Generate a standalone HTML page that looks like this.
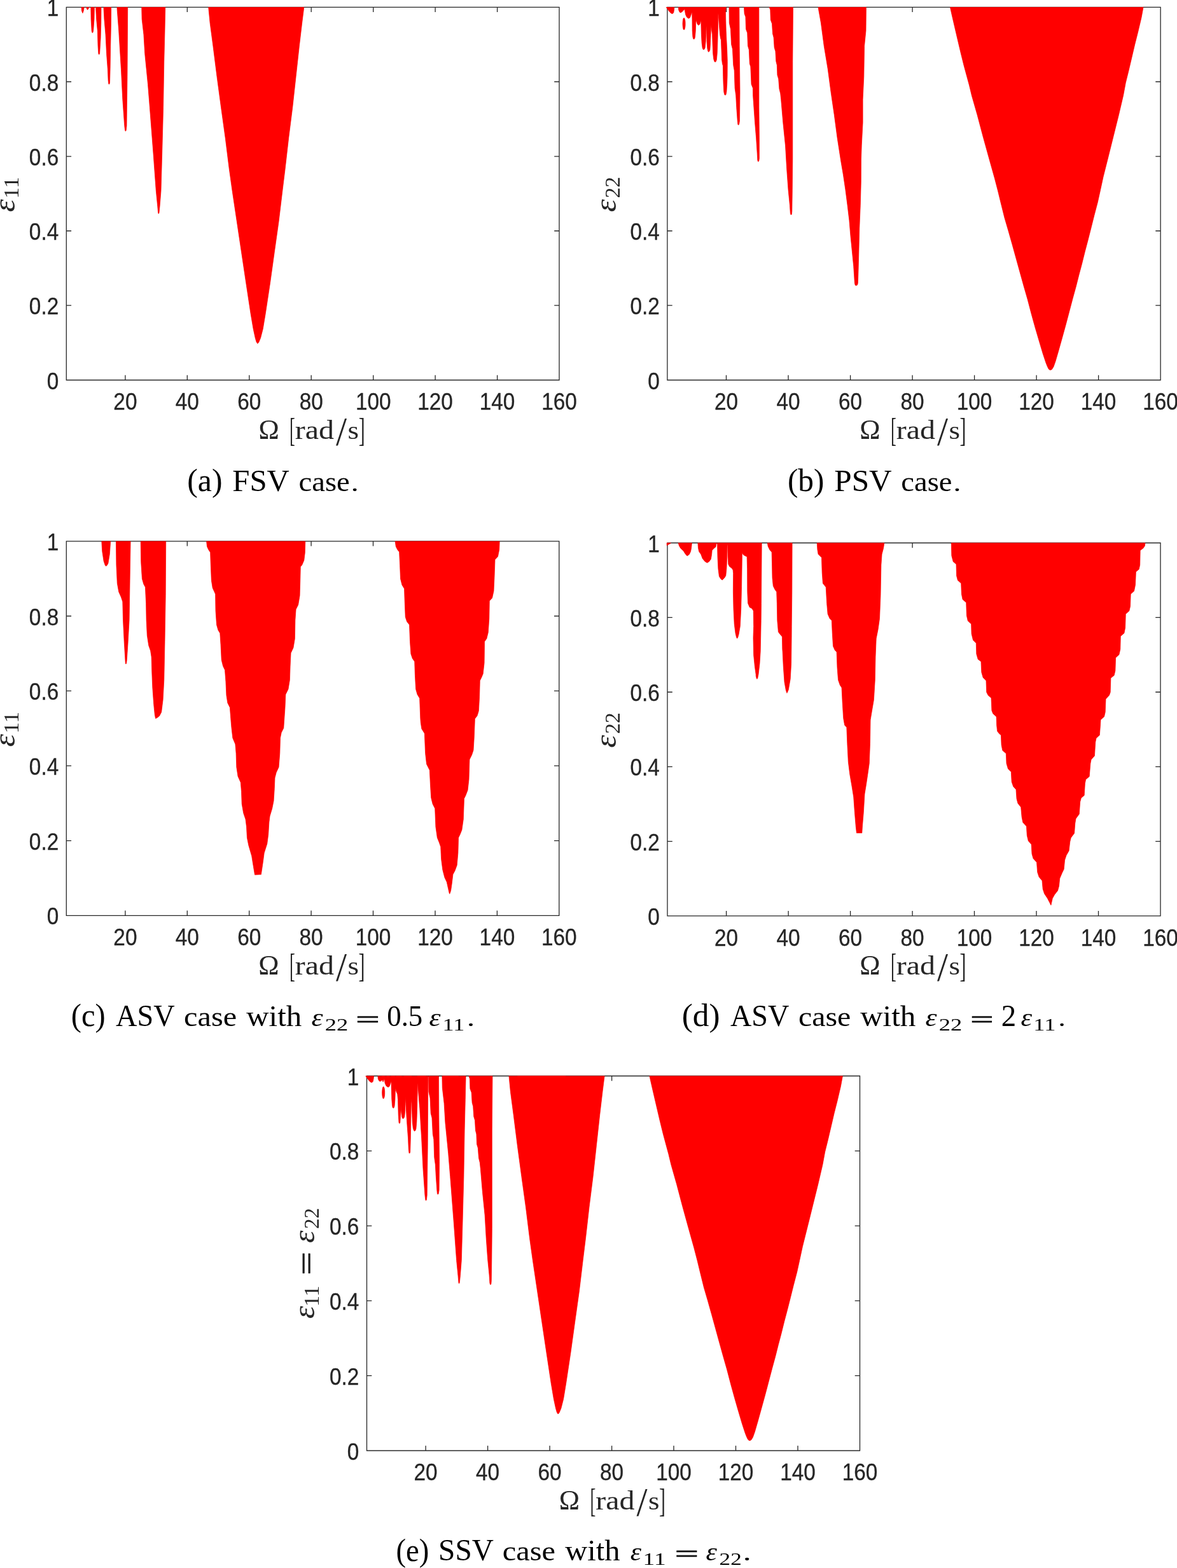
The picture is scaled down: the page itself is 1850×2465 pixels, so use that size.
<!DOCTYPE html>
<html lang="en"><head><meta charset="utf-8"><title>Stability charts</title>
<style>html,body{margin:0;padding:0;background:#fff}svg{display:block}.tk{font-family:"Liberation Sans",sans-serif;font-size:33.33px;fill:#262626;stroke:#262626;stroke-width:.3}.lb{font-family:"Liberation Serif",serif;fill:#262626}.cp{font-family:"Liberation Serif",serif;fill:#000}.eq{stroke:currentColor;stroke-width:.8}.cp.eq{color:#000}.lb.eq{color:#262626}.ax{stroke:#262626;stroke-width:1.3;fill:none}.rd{fill:#ff0000;stroke:#ff0000;stroke-width:.7;stroke-linejoin:round}</style></head><body>
<svg width="1850" height="2465" viewBox="0 0 1850 2465">
<rect width="1850" height="2465" fill="#fff"/>
<g id="panel-a">
<path class="ax" d="M104.3 11.3H879V597.5H104.3ZM196.9 597.5v-7.8M196.9 11.3v7.8M294.3 597.5v-7.8M294.3 11.3v7.8M391.8 597.5v-7.8M391.8 11.3v7.8M489.2 597.5v-7.8M489.2 11.3v7.8M586.7 597.5v-7.8M586.7 11.3v7.8M684.1 597.5v-7.8M684.1 11.3v7.8M781.6 597.5v-7.8M781.6 11.3v7.8M104.3 480.2h7.8M879 480.2h-7.8M104.3 363h7.8M879 363h-7.8M104.3 245.8h7.8M879 245.8h-7.8M104.3 128.5h7.8M879 128.5h-7.8"/>
<path class="rd" d="M128 11.5L128.4 16.9L129.9 20.7L131.3 16.9L132.2 11.5Z"/>
<path class="rd" d="M135.8 11.5L136.4 13.9L137.6 15.4L138.8 13.9L139.8 11.5Z"/>
<path class="rd" d="M142.8 11.5L143.1 30.1L144.1 48.2L144.8 51.2L145.4 51.6L146.1 50.6L146.7 48.2L148 30.1L148.4 11.5Z"/>
<path class="rd" d="M150.6 11.5L151.6 30.1L153.3 48.2L154 72.3L154.8 84.3L155.7 85.8L156.6 84.3L158.1 60.2L158.8 36.1L159 11.5Z"/>
<path class="rd" d="M162.9 11.5L163.9 30.1L166 54.2L167.5 84.3L169.3 108.4L170.1 126.5L170.8 131.9L171.4 132.5L172 131.9L172.5 130.1L173.1 108.4L173.7 72.3L174.5 36.1L174.7 11.5Z"/>
<path class="rd" d="M183.9 11.5L186.7 48.2L190.4 108.4L192.8 156.6L195.7 197.6L196.6 205L197.3 206.3L198.2 205L199 198L200 120.5L200.7 11.5Z"/>
<path class="rd" d="M222.7 11.5L223.1 30.1L225.9 54.2L227.7 84.3L230.1 108.4L232.5 132.5L235.4 168.7L241 241L245.3 300L247.7 324.1L248.6 334.5L249.2 336.1L250 334.5L251.1 324.1L253 300L254.7 241L256.6 168.7L257.8 96.4L259 48.2L259.8 11.5Z"/>
<path class="rd" d="M327.7 11.5L330.1 36.1L334.9 72.3L341 120.5L347.5 168.7L354.2 216.9L360.2 265.1L365.1 300L372.3 348.2L379.5 396.4L386.7 444.6L394 492.8L398.1 516.9L401.2 531.3L403 537.5L404.8 540.2L406.8 538L409.6 531.3L413.3 516.9L417.3 492.8L424.6 444.6L431.3 396.4L438.1 348.2L443.9 300L448.2 265L453.7 216.9L459.8 168.7L465.1 120.5L470.4 72.3L474.7 36L477.8 11.5Z"/>
<g class="tk" text-anchor="middle">
<text transform="translate(196.9 644.2) scale(1 1.09)">20</text>
<text transform="translate(294.3 644.2) scale(1 1.09)">40</text>
<text transform="translate(391.8 644.2) scale(1 1.09)">60</text>
<text transform="translate(489.2 644.2) scale(1 1.09)">80</text>
<text transform="translate(586.7 644.2) scale(1 1.09)">100</text>
<text transform="translate(684.1 644.2) scale(1 1.09)">120</text>
<text transform="translate(781.6 644.2) scale(1 1.09)">140</text>
<text transform="translate(879 644.2) scale(1 1.09)">160</text>
</g>
<g class="tk" text-anchor="end">
<text transform="translate(92.2 611.5) scale(1 1.09)">0</text>
<text transform="translate(92.2 494.2) scale(1 1.09)">0.2</text>
<text transform="translate(92.2 377) scale(1 1.09)">0.4</text>
<text transform="translate(92.2 259.8) scale(1 1.09)">0.6</text>
<text transform="translate(92.2 142.5) scale(1 1.09)">0.8</text>
<text transform="translate(92.2 25.3) scale(1 1.09)">1</text>
</g>
<text class="lb"><tspan x="406.42" y="689.85" font-size="44.19" textLength="32.33" lengthAdjust="spacingAndGlyphs">Ω</tspan> <tspan x="455.06" y="693.83" font-size="52.1" textLength="8.84" lengthAdjust="spacingAndGlyphs">[</tspan><tspan x="463.89" y="689.94" font-size="42.43" textLength="61.19" lengthAdjust="spacingAndGlyphs">rad</tspan><tspan x="528.05" y="699.89" font-size="63.63" textLength="17.05" lengthAdjust="spacingAndGlyphs">/</tspan><tspan x="546.58" y="689.97" font-size="40.03" textLength="17.49" lengthAdjust="spacingAndGlyphs">s</tspan><tspan x="563.68" y="693.83" font-size="52.1" textLength="9.99" lengthAdjust="spacingAndGlyphs">]</tspan></text>
<text class="lb" transform="translate(23.5 304.38) rotate(-90)"><tspan x="-28.88" y="-0.46" font-size="48.26" textLength="20.03" lengthAdjust="spacingAndGlyphs" font-style="italic">ε</tspan><tspan x="-7.9" y="5.4" font-size="34.56" textLength="34.14" lengthAdjust="spacingAndGlyphs">11</tspan></text>
</g>
<g id="panel-b">
<path class="ax" d="M1048.9 11.3H1824.1V597.5H1048.9ZM1141.5 597.5v-7.8M1141.5 11.3v7.8M1239 597.5v-7.8M1239 11.3v7.8M1336.6 597.5v-7.8M1336.6 11.3v7.8M1434.1 597.5v-7.8M1434.1 11.3v7.8M1531.6 597.5v-7.8M1531.6 11.3v7.8M1629.1 597.5v-7.8M1629.1 11.3v7.8M1726.6 597.5v-7.8M1726.6 11.3v7.8M1048.9 480.2h7.8M1824.1 480.2h-7.8M1048.9 363h7.8M1824.1 363h-7.8M1048.9 245.8h7.8M1824.1 245.8h-7.8M1048.9 128.5h7.8M1824.1 128.5h-7.8"/>
<path class="rd" d="M1047.2 11.5L1048.4 13.3L1052 18.1L1054.5 20.7L1056.9 21.7L1058.7 19.9L1059.5 15.7L1059.9 11.5Z"/>
<path class="rd" d="M1066.3 11.5L1066.7 15.7L1068 18.7L1069.5 19.9L1071.6 19L1074.3 16.3L1076.1 14.5L1076.7 18.1L1077.6 22.9L1079.2 26.5L1081 28.4L1082.8 28.9L1084.6 27.5L1085.8 24.1L1087 20.5L1087.7 19.3L1088 30.1L1088.2 48.2L1088.9 57.8L1089.6 60.8L1090.6 61.7L1091.8 60.8L1092.5 57.8L1093.3 48.2L1093.7 36.1L1094.2 31.1L1094.9 34.3L1096 37.6L1097.2 39.2L1098.4 39.5L1099.8 38.3L1100.8 34.9L1101.4 31.6L1101.9 36.1L1102.4 54.2L1103.1 67.5L1104.1 75.3L1105.1 77.7L1106 78.1L1107.2 77.3L1108.2 74.9L1109.2 65.1L1109.6 54.2L1110.1 41L1110.6 48.2L1111.1 66.3L1111.8 75.9L1112.8 80.5L1113.7 81.7L1114.9 80.7L1115.9 78.3L1116.6 67.5L1117.1 54.2L1117.6 38.6L1118.3 45.8L1119.5 54.2L1120.2 72.3L1120.7 84.3L1121.7 92.8L1122.9 96.7L1124.1 97.6L1125.3 96.7L1126.3 94L1127.2 84.3L1127.7 72.3L1128.2 54.2L1128.6 36.1L1128.9 21.1L1129.4 25.3L1130.4 39.8L1131.6 54.2L1132.5 60.2L1133.4 62.7L1134 78.3L1134.6 94L1135.4 100L1136.4 103.6L1136.7 120.5L1137.1 132.5L1137.8 144.6L1138.8 148.8L1139.8 149.6L1141 148.8L1141.9 144.6L1142.7 132.5L1143.1 120.5L1143.3 96.4L1142.7 78.3L1141.9 62.7L1141.2 48.2L1140.7 30.1L1140.5 19.3L1141 13.3L1141.4 11.5Z"/>
<path class="rd" d="M1077.1 37.5L1077.1 39.3L1077 41.1L1076.8 42.7L1076.5 44.1L1076.2 45.3L1075.8 46.2L1075.5 46.7L1075.1 46.9L1074.7 46.7L1074.3 46.2L1073.9 45.3L1073.6 44.1L1073.4 42.7L1073.2 41.1L1073.1 39.3L1073 37.5L1073.1 35.6L1073.2 33.9L1073.4 32.2L1073.6 30.8L1073.9 29.7L1074.3 28.8L1074.7 28.3L1075.1 28.1L1075.5 28.3L1075.8 28.8L1076.2 29.7L1076.5 30.8L1076.8 32.2L1077 33.9L1077.1 35.6Z"/>
<path class="rd" d="M1146 11.5L1146.3 36.1L1148.4 45.8L1149.6 69.9L1151.4 77.1L1152.7 102.4L1154.2 110.8L1155.1 138.6L1156.7 150L1157.7 168.7L1159.2 190L1159.8 195.5L1160.6 196.6L1161.6 195.5L1162.5 190L1163 144.6L1162.2 72.3L1161.9 11.5Z"/>
<path class="rd" d="M1169.5 11.5L1170.1 21.7L1171.9 26.5L1172.5 45.8L1174.7 51.8L1175.5 72.3L1177.3 78.3L1178.3 100L1179.8 104.8L1181 132.5L1183.4 138.6L1183.6 150L1186.6 192.8L1188.6 216.9L1190.2 241L1190.8 252L1191.7 254.2L1192.8 253L1193.4 249L1193.4 216.9L1192.9 168.7L1192.9 11.5Z"/>
<path class="rd" d="M1209.3 11.5L1210.8 15.7L1211.3 31.3L1213.5 37.3L1214.5 53L1216.1 59L1217.1 74.7L1218.9 80.7L1219.8 96.4L1221.3 102.4L1221.9 118.1L1223.7 124.1L1224.9 139.8L1226.7 147L1227.7 156.6L1230.8 192.8L1234.5 228.9L1236.6 265.1L1239 298.2L1241.4 322.3L1242.3 335.5L1243.4 338L1244.4 336.5L1244.8 331.9L1245.3 298.2L1245.8 250L1245.8 96.4L1246.5 11.5Z"/>
<path class="rd" d="M1286 11.5L1290.4 36.1L1295.2 72.3L1301.2 108.4L1306 144.6L1311.3 180.7L1316.1 216.9L1321.7 253L1325.3 274.1L1328.9 298.2L1332 322.3L1334.9 346.4L1336.9 370.5L1339.3 394.6L1341.7 418.7L1343.4 445L1344.2 448.3L1345.8 448.9L1347.6 448L1348.4 445L1348.9 430.7L1349.9 394.6L1350.8 358.4L1352.3 322.3L1353.3 286.1L1353.5 250L1354.2 228.9L1356.1 192.8L1356.1 156.6L1357.8 120.5L1358.6 72.3L1361 48.2L1361.4 11.5Z"/>
<path class="rd" d="M1493.5 11.5L1496.3 24.1L1500.5 42.2L1505.3 62.7L1510.1 83.1L1514.9 102.4L1519.8 120.5L1523.4 133.7L1527.3 150L1536.1 180.7L1545.2 215.1L1554.2 247.6L1563.3 280.1L1568.5 300L1572.9 318.1L1578.9 342.2L1584.9 362.7L1591 384.3L1597 406L1603 427.7L1609.2 450L1615.1 470.5L1621.1 493.4L1627.1 515.1L1633.1 535.5L1639.2 556L1644 570.5L1646.4 576.5L1648.2 580.1L1650.2 581.7L1652 581.5L1653.6 580.4L1656 576.5L1659 568.1L1663.9 551.2L1669.3 531.9L1675.3 510.2L1680.7 489.8L1686.1 469.3L1691.4 450L1695.8 432.5L1700.6 414.5L1705.4 395.2L1710.2 377.1L1715.1 357.8L1719.9 338.6L1725.3 318.1L1729.3 300L1734 278.3L1742.2 245.8L1750.3 213.3L1758.4 180.7L1765.6 150L1769.3 130.1L1774.1 110.8L1778.9 90.4L1783.7 69.9L1788.6 50.6L1794 27.7L1797 11.5Z"/>
<g class="tk" text-anchor="middle">
<text transform="translate(1141.5 644.2) scale(1 1.09)">20</text>
<text transform="translate(1239 644.2) scale(1 1.09)">40</text>
<text transform="translate(1336.6 644.2) scale(1 1.09)">60</text>
<text transform="translate(1434.1 644.2) scale(1 1.09)">80</text>
<text transform="translate(1531.6 644.2) scale(1 1.09)">100</text>
<text transform="translate(1629.1 644.2) scale(1 1.09)">120</text>
<text transform="translate(1726.6 644.2) scale(1 1.09)">140</text>
<text transform="translate(1824.1 644.2) scale(1 1.09)">160</text>
</g>
<g class="tk" text-anchor="end">
<text transform="translate(1036.8 611.5) scale(1 1.09)">0</text>
<text transform="translate(1036.8 494.2) scale(1 1.09)">0.2</text>
<text transform="translate(1036.8 377) scale(1 1.09)">0.4</text>
<text transform="translate(1036.8 259.8) scale(1 1.09)">0.6</text>
<text transform="translate(1036.8 142.5) scale(1 1.09)">0.8</text>
<text transform="translate(1036.8 25.3) scale(1 1.09)">1</text>
</g>
<text class="lb"><tspan x="1351.27" y="689.85" font-size="44.19" textLength="32.33" lengthAdjust="spacingAndGlyphs">Ω</tspan> <tspan x="1399.91" y="693.83" font-size="52.1" textLength="8.84" lengthAdjust="spacingAndGlyphs">[</tspan><tspan x="1408.74" y="689.94" font-size="42.43" textLength="61.19" lengthAdjust="spacingAndGlyphs">rad</tspan><tspan x="1472.9" y="699.89" font-size="63.63" textLength="17.05" lengthAdjust="spacingAndGlyphs">/</tspan><tspan x="1491.43" y="689.97" font-size="40.03" textLength="17.49" lengthAdjust="spacingAndGlyphs">s</tspan><tspan x="1508.53" y="693.83" font-size="52.1" textLength="9.99" lengthAdjust="spacingAndGlyphs">]</tspan></text>
<text class="lb" transform="translate(968.1 304.38) rotate(-90)"><tspan x="-28.88" y="-0.46" font-size="48.26" textLength="20.03" lengthAdjust="spacingAndGlyphs" font-style="italic">ε</tspan><tspan x="-7.16" y="5.9" font-size="34.41" textLength="33.78" lengthAdjust="spacingAndGlyphs">22</tspan></text>
</g>
<g id="panel-c">
<path class="ax" d="M104.3 850.8H878.8V1439.3H104.3ZM196.9 1439.3v-7.8M196.9 850.8v7.8M294.3 1439.3v-7.8M294.3 850.8v7.8M391.7 1439.3v-7.8M391.7 850.8v7.8M489.1 1439.3v-7.8M489.1 850.8v7.8M586.5 1439.3v-7.8M586.5 850.8v7.8M684 1439.3v-7.8M684 850.8v7.8M781.4 1439.3v-7.8M781.4 850.8v7.8M104.3 1321.6h7.8M878.8 1321.6h-7.8M104.3 1203.9h7.8M878.8 1203.9h-7.8M104.3 1086.2h7.8M878.8 1086.2h-7.8M104.3 968.5h7.8M878.8 968.5h-7.8"/>
<path class="rd" d="M159.8 851L160.7 866.5L163.1 882.2L165.1 888.2L166.5 890.1L168.2 888.7L169.9 885.8L172.3 871.3L173.7 851Z"/>
<path class="rd" d="M182.4 851L182.9 888.2L184.3 917.1L186.7 930.4L190.4 938.8L192.8 946L193.5 974.9L195.2 1008.7L196.9 1037.6L197.3 1042.9L197.8 1043.9L198.6 1042.9L199.3 1037.6L201.2 1008.7L203.1 974.9L204.1 912.3L205.1 851Z"/>
<path class="rd" d="M221.2 851L221.7 883.4L223.4 909.9L225.8 918.3L228.4 923.1L229.6 948.4L230.1 974.9L231.3 999L233.7 1014.7L236.6 1023.1L238.1 1032.8L238.8 1056.9L239.8 1081L241.7 1107.5L243.4 1124.3L244.6 1129.6L247.5 1128L250.6 1125.5L253.7 1119.5L256.1 1100.2L257.8 1068.9L259 1008.7L260.2 936.4L260.7 851Z"/>
<path class="rd" d="M324.6 851L325.5 859.3L327.7 864.1L330.6 868.4L331.3 888.2L332.3 912.3L334.2 924.3L336.6 929.6L338.6 934L339 960.5L340.5 982.2L342.9 990.6L345.8 995.4L347 1013.5L348.2 1037.6L350.6 1047.2L353.5 1053.3L354.9 1071.3L355.9 1093L357.8 1105.1L361.4 1112.3L362.7 1129.2L363.9 1143.4L365.8 1160.2L369.9 1169.9L371.1 1184.3L371.8 1206L374 1220.5L378.3 1230.1L379.5 1244.6L380.2 1263.9L382.7 1278.3L386 1288L387.5 1300L388.4 1316.9L390.8 1328.9L395.7 1345.8L397.6 1357.8L400.5 1375.2L410.4 1374.7L413.3 1355.4L415.2 1341L419.8 1326.5L421.7 1312L422.9 1292.8L424.1 1283.1L427.7 1271.1L430.1 1259L431.3 1239.8L432 1222.9L434.2 1214.5L438.1 1206L439.8 1184.3L440.5 1160.2L442.2 1151.8L445.8 1144.6L448 1112.3L448.9 1091.8L453 1083.4L455.4 1068.9L456.1 1047.2L457.1 1026.7L461 1018.3L463.4 1003.9L463.9 974.9L465.1 958.1L468.7 950.8L471.1 936.4L471.8 912.3L472.3 891.1L474.7 888.2L477.8 881L479.3 868.9L479.8 851Z"/>
<path class="rd" d="M621.1 851L622.3 859.3L624.7 864.1L627.6 867.7L628.6 888.2L629.5 909.9L631.9 919.5L635.5 925.5L636.3 948.4L637.2 970.1L639.6 977.3L643.5 982.2L644.5 1008.7L645.9 1028L648.3 1035.2L651.7 1040L652.4 1061.7L653.6 1083.4L656 1091.8L659.6 1097.8L660.8 1129.2L661.3 1136.1L662.8 1145.8L667.3 1153L668.6 1184.3L670.5 1201.2L675.3 1210.8L676.5 1234.9L677.7 1254.2L680.1 1263.9L683.7 1271.1L684.9 1300L687.3 1316.9L690.2 1324.1L692.7 1331.3L693.6 1350.6L695.8 1367.5L698.9 1379.5L702.3 1386.7L704.7 1397.6L706 1403.5L706.7 1405.3L707.5 1403.5L708.6 1400L710.2 1389.2L711.9 1374.7L715.1 1368.7L718.2 1360.2L719.9 1341L720.6 1316.9L723 1312L725.9 1304.8L728.3 1288L729.5 1255.4L731.9 1250.6L735.1 1242.2L737 1225.3L738 1194L741.6 1186.7L744 1179.5L745.2 1160.2L746.4 1130.1L750 1125.3L751.9 1119.3L752.4 1117.1L753.6 1095.4L754.3 1070.1L756.7 1065.3L759.2 1059.3L761.1 1042.4L761.6 1008.7L764.9 1003.9L767.3 994.2L768.8 972.5L769.3 944.8L773.6 940L776 929.2L777 907.5L778 879.8L782.5 874.9L784.7 864.1L785.2 851Z"/>
<g class="tk" text-anchor="middle">
<text transform="translate(196.9 1486) scale(1 1.09)">20</text>
<text transform="translate(294.3 1486) scale(1 1.09)">40</text>
<text transform="translate(391.7 1486) scale(1 1.09)">60</text>
<text transform="translate(489.1 1486) scale(1 1.09)">80</text>
<text transform="translate(586.5 1486) scale(1 1.09)">100</text>
<text transform="translate(684 1486) scale(1 1.09)">120</text>
<text transform="translate(781.4 1486) scale(1 1.09)">140</text>
<text transform="translate(878.8 1486) scale(1 1.09)">160</text>
</g>
<g class="tk" text-anchor="end">
<text transform="translate(92.2 1453.3) scale(1 1.09)">0</text>
<text transform="translate(92.2 1335.6) scale(1 1.09)">0.2</text>
<text transform="translate(92.2 1217.9) scale(1 1.09)">0.4</text>
<text transform="translate(92.2 1100.2) scale(1 1.09)">0.6</text>
<text transform="translate(92.2 982.5) scale(1 1.09)">0.8</text>
<text transform="translate(92.2 864.8) scale(1 1.09)">1</text>
</g>
<text class="lb"><tspan x="406.32" y="1531.7" font-size="44.19" textLength="32.33" lengthAdjust="spacingAndGlyphs">Ω</tspan> <tspan x="454.96" y="1535.68" font-size="52.1" textLength="8.84" lengthAdjust="spacingAndGlyphs">[</tspan><tspan x="463.79" y="1531.79" font-size="42.43" textLength="61.19" lengthAdjust="spacingAndGlyphs">rad</tspan><tspan x="527.95" y="1541.74" font-size="63.63" textLength="17.05" lengthAdjust="spacingAndGlyphs">/</tspan><tspan x="546.48" y="1531.82" font-size="40.03" textLength="17.49" lengthAdjust="spacingAndGlyphs">s</tspan><tspan x="563.58" y="1535.68" font-size="52.1" textLength="9.99" lengthAdjust="spacingAndGlyphs">]</tspan></text>
<text class="lb" transform="translate(23.5 1145.05) rotate(-90)"><tspan x="-28.88" y="-0.46" font-size="48.26" textLength="20.03" lengthAdjust="spacingAndGlyphs" font-style="italic">ε</tspan><tspan x="-7.9" y="5.4" font-size="34.56" textLength="34.14" lengthAdjust="spacingAndGlyphs">11</tspan></text>
</g>
<g id="panel-d">
<path class="ax" d="M1049 853.5H1824V1439.9H1049ZM1141.6 1439.9v-7.8M1141.6 853.5v7.8M1239.1 1439.9v-7.8M1239.1 853.5v7.8M1336.6 1439.9v-7.8M1336.6 853.5v7.8M1434.1 1439.9v-7.8M1434.1 853.5v7.8M1531.5 1439.9v-7.8M1531.5 853.5v7.8M1629 1439.9v-7.8M1629 853.5v7.8M1726.5 1439.9v-7.8M1726.5 853.5v7.8M1049 1322.6h7.8M1824 1322.6h-7.8M1049 1205.3h7.8M1824 1205.3h-7.8M1049 1088h7.8M1824 1088h-7.8M1049 970.7h7.8M1824 970.7h-7.8"/>
<path class="rd" d="M1048.1 853.7L1054.5 853.7L1050.8 855.9L1048.3 857.7Z"/>
<path class="rd" d="M1066.2 853.7L1067.5 858.1L1069.8 862L1074.3 866.2L1077.1 870.7L1080.1 874L1083.4 871.6L1085.5 867.1L1086.6 861.7L1087.4 853.7Z"/>
<path class="rd" d="M1096.9 853.7L1097.5 861.7L1098.7 867.1L1101.8 871.6L1104.2 878L1107.8 882.5L1111.4 884.8L1114.5 883L1117.4 878.9L1118.6 871.6L1119.2 865.3L1122.2 862L1124.9 859.9L1126.4 853.7Z"/>
<path class="rd" d="M1127.5 853.7L1128 876.1L1128.9 894.2L1130.4 906L1132.5 909.6L1135.1 911.9L1138.5 908.7L1140.8 905.1L1141.9 894.2L1142.7 876.1L1143 858.1L1143.4 855.4L1143.7 858.1L1144.1 876.1L1144.8 887L1146.6 890.6L1150.2 893.3L1152.1 896L1152.6 901.4L1152.4 930.4L1153 957.5L1154.2 981L1156 995.4L1157.5 1001.8L1158.6 1003.7L1159.8 1001.8L1161.1 997.2L1163.3 984.6L1164.7 957.5L1165.6 921.3L1166.2 885.2L1166.5 867.1L1166.9 869.8L1168.7 872.5L1174.1 875.2L1174.6 894.2L1174.8 930.4L1175.6 948.4L1178.3 954.8L1181.9 956.6L1184.2 960.2L1184.6 984.6L1184 1002.7L1184.6 1029.8L1186.4 1047.8L1188.2 1060.5L1188.2 1062.7L1189.2 1066.5L1189.9 1067.5L1190.8 1066L1192 1060.2L1194 1043.4L1195.2 1024.1L1195.7 1000L1196.2 975.6L1196.5 948.4L1196.9 894.2L1197.2 853.7Z"/>
<path class="rd" d="M1206.3 853.7L1207.2 859L1209.9 864.4L1213.1 868L1213.5 885.2L1214 908.7L1215.3 921.3L1218 926.8L1220.7 930.4L1221.3 948.4L1221.8 975.6L1223.4 993.6L1226.2 997.2L1229.4 1000.9L1229.8 1020.7L1230.1 1024.1L1231.3 1048.2L1233 1072.3L1235.4 1085.5L1236.9 1089.6L1238.3 1086.7L1239.3 1084.3L1242.2 1067.5L1243.6 1043.4L1244.1 1000L1244.2 984.6L1244.8 930.4L1245.1 853.7Z"/>
<path class="rd" d="M1284.2 853.7L1284.9 864.1L1286.1 871.3L1291.4 876.6L1292.2 900.2L1293.4 917.1L1298.2 923.1L1299.6 948.4L1301.1 965.3L1304.2 972.5L1307.3 975.4L1308.3 996.6L1309.5 1015.9L1312.2 1021.9L1315.1 1025.1L1316 1049.6L1317.5 1068.9L1320.4 1077.3L1323 1081L1324.2 1105.1L1325.7 1129.2L1327.6 1140L1330.8 1143.4L1331.8 1168.7L1333.3 1197.6L1335.7 1216.9L1339 1236.1L1341.7 1253L1343.4 1277.1L1345.3 1300L1346.4 1309.5L1354.8 1309.5L1355.4 1300L1357.3 1277.1L1359 1248.2L1361.4 1233.7L1363.9 1216.9L1366.3 1200L1367.5 1168.7L1368 1134.9L1368.1 1131.6L1370.5 1117.1L1373.4 1100.2L1375.3 1068.9L1376 1032.8L1377.2 1003.9L1380.1 989.4L1382.5 972.5L1384 936.4L1384.9 888.2L1386.1 871.3L1388.6 861.7L1389.8 853.7Z"/>
<path class="rd" d="M1495.3 853.7L1495.8 873.7L1498.2 882.9L1503 887L1503.5 905.1L1505.4 912.3L1510.7 917.1L1511.4 934L1513.1 942.4L1518.7 947.2L1519.4 967.7L1521.3 976.1L1526.6 981L1527.1 996.6L1529.5 1006.3L1534.3 1011.1L1534.8 1028L1537.2 1036.4L1542 1040L1542.8 1056.9L1545.2 1065.3L1550 1070.1L1550.7 1088.2L1553.1 1093L1558 1097.3L1558.9 1117.1L1560.8 1121.9L1566.1 1126.7L1566.6 1140L1567.6 1149.6L1570.5 1153.3L1573.4 1155.7L1574.1 1171.3L1575.8 1179.8L1581.3 1184.6L1582 1200.2L1584.5 1208.7L1589.3 1213.5L1590.2 1229.2L1592.7 1236.4L1597 1241.2L1598 1255.7L1599.9 1262.9L1604.7 1268.9L1606.1 1284.6L1607.8 1293L1613.4 1299L1614.3 1313.5L1616.3 1321.9L1621.1 1327.5L1622 1342.4L1624 1349.6L1629.5 1355.7L1630.7 1371.3L1633.1 1378.6L1638 1384.6L1639.2 1397.8L1641.6 1405.1L1646.4 1412.3L1649.5 1418.3L1651.9 1423.1L1654.3 1412.3L1657.7 1406.3L1662.5 1400.2L1664.5 1393L1665.7 1381L1669.3 1372.5L1672.2 1366.5L1673.6 1352L1676 1344.8L1680.1 1337.6L1681.8 1323.1L1683.3 1317.1L1688.6 1309.9L1689.8 1294.2L1691 1287L1696.3 1279.8L1697.7 1260.5L1699.4 1254.5L1704.2 1250.4L1705.4 1231.6L1706.6 1225.5L1712.2 1220.7L1713.9 1200.2L1715.1 1194.2L1720.4 1188.2L1721.8 1166.5L1723 1160.5L1728.3 1155.7L1729.5 1140L1730 1131.6L1735.5 1126.7L1737.2 1119.5L1738 1099L1743.5 1093L1745.2 1088.2L1745.9 1066L1751.2 1061.7L1752.9 1054.5L1753.6 1034L1758.9 1029.2L1760.8 1020.7L1761.3 1000.2L1766.9 995.4L1768.6 987L1769.3 965.3L1774.8 960.5L1776.5 953.3L1777.2 934L1782.5 929.2L1784.5 919.5L1785.4 899L1790.2 894.9L1791.7 888.2L1792.2 865.3L1797 861.7L1799.4 858.1L1799.9 853.7Z"/>
<g class="tk" text-anchor="middle">
<text transform="translate(1141.6 1486.6) scale(1 1.09)">20</text>
<text transform="translate(1239.1 1486.6) scale(1 1.09)">40</text>
<text transform="translate(1336.6 1486.6) scale(1 1.09)">60</text>
<text transform="translate(1434.1 1486.6) scale(1 1.09)">80</text>
<text transform="translate(1531.5 1486.6) scale(1 1.09)">100</text>
<text transform="translate(1629 1486.6) scale(1 1.09)">120</text>
<text transform="translate(1726.5 1486.6) scale(1 1.09)">140</text>
<text transform="translate(1824 1486.6) scale(1 1.09)">160</text>
</g>
<g class="tk" text-anchor="end">
<text transform="translate(1036.9 1453.9) scale(1 1.09)">0</text>
<text transform="translate(1036.9 1336.6) scale(1 1.09)">0.2</text>
<text transform="translate(1036.9 1219.3) scale(1 1.09)">0.4</text>
<text transform="translate(1036.9 1102) scale(1 1.09)">0.6</text>
<text transform="translate(1036.9 984.7) scale(1 1.09)">0.8</text>
<text transform="translate(1036.9 867.5) scale(1 1.09)">1</text>
</g>
<text class="lb"><tspan x="1351.27" y="1532.3" font-size="44.19" textLength="32.33" lengthAdjust="spacingAndGlyphs">Ω</tspan> <tspan x="1399.91" y="1536.28" font-size="52.1" textLength="8.84" lengthAdjust="spacingAndGlyphs">[</tspan><tspan x="1408.74" y="1532.39" font-size="42.43" textLength="61.19" lengthAdjust="spacingAndGlyphs">rad</tspan><tspan x="1472.9" y="1542.34" font-size="63.63" textLength="17.05" lengthAdjust="spacingAndGlyphs">/</tspan><tspan x="1491.43" y="1532.42" font-size="40.03" textLength="17.49" lengthAdjust="spacingAndGlyphs">s</tspan><tspan x="1508.53" y="1536.28" font-size="52.1" textLength="9.99" lengthAdjust="spacingAndGlyphs">]</tspan></text>
<text class="lb" transform="translate(968.2 1146.68) rotate(-90)"><tspan x="-28.88" y="-0.46" font-size="48.26" textLength="20.03" lengthAdjust="spacingAndGlyphs" font-style="italic">ε</tspan><tspan x="-7.16" y="5.9" font-size="34.41" textLength="33.78" lengthAdjust="spacingAndGlyphs">22</tspan></text>
</g>
<g id="panel-e">
<path class="ax" d="M576.5 1691.5H1351.5V2280.5H576.5ZM669.1 2280.5v-7.8M669.1 1691.5v7.8M766.6 2280.5v-7.8M766.6 1691.5v7.8M864.1 2280.5v-7.8M864.1 1691.5v7.8M961.6 2280.5v-7.8M961.6 1691.5v7.8M1059 2280.5v-7.8M1059 1691.5v7.8M1156.5 2280.5v-7.8M1156.5 1691.5v7.8M1254 2280.5v-7.8M1254 1691.5v7.8M576.5 2162.7h7.8M1351.5 2162.7h-7.8M576.5 2044.9h7.8M1351.5 2044.9h-7.8M576.5 1927.1h7.8M1351.5 1927.1h-7.8M576.5 1809.3h7.8M1351.5 1809.3h-7.8"/>
<path class="rd" d="M574.8 1691.7L576 1693.5L579.6 1698.3L582.1 1700.9L584.5 1701.9L586.3 1700.1L587.1 1695.9L587.5 1691.7Z"/>
<path class="rd" d="M593.9 1691.7L594.3 1695.9L595.6 1698.9L597.1 1700.1L599.2 1699.2L601.9 1696.5L603.7 1694.7L604.3 1698.3L605.2 1703.1L606.8 1706.7L608.6 1708.6L610.4 1709.1L612.2 1707.7L613.4 1704.3L614.6 1700.7L615.3 1699.5L615.6 1710.3L615.8 1728.5L616.5 1738.2L617.2 1741.2L618.2 1742.1L619.4 1741.2L620.1 1738.2L620.9 1728.5L621.3 1716.4L621.8 1711.3L622.5 1714.6L623.6 1717.9L624.8 1719.5L626 1719.8L627.4 1718.6L628.4 1715.2L629 1711.9L629.5 1716.4L630 1734.6L630.7 1747.9L631.7 1755.8L632.7 1758.2L633.6 1758.6L634.8 1757.8L635.8 1755.4L636.8 1745.5L637.2 1734.6L637.7 1721.3L638.2 1728.5L638.7 1746.7L639.4 1756.4L640.4 1761L641.3 1762.2L642.5 1761.2L643.5 1758.8L644.2 1747.9L644.7 1734.6L645.2 1718.9L645.9 1726.1L647.1 1734.6L647.8 1752.8L648.3 1764.8L649.3 1773.4L650.5 1777.3L651.7 1778.2L652.9 1777.3L653.9 1774.6L654.8 1764.8L655.3 1752.8L655.8 1734.6L656.2 1716.4L656.5 1701.3L657 1705.5L658 1720.1L659.2 1734.6L660.1 1740.6L661 1743.1L661.6 1758.8L662.2 1774.6L663 1780.6L664 1784.2L664.3 1801.2L664.7 1813.2L665.4 1825.4L666.4 1829.6L667.4 1830.4L668.6 1829.6L669.5 1825.4L670.3 1813.2L670.7 1801.2L670.9 1777L670.3 1758.8L669.5 1743.1L668.8 1728.5L668.3 1710.3L668.1 1699.5L668.6 1693.5L669 1691.7Z"/>
<path class="rd" d="M604.7 1717.8L604.7 1719.6L604.6 1721.4L604.4 1723L604.1 1724.4L603.8 1725.6L603.4 1726.5L603.1 1727L602.7 1727.2L602.3 1727L601.9 1726.5L601.5 1725.6L601.2 1724.4L601 1723L600.8 1721.4L600.7 1719.6L600.6 1717.8L600.7 1715.9L600.8 1714.2L601 1712.5L601.2 1711L601.5 1709.9L601.9 1709L602.3 1708.5L602.7 1708.3L603.1 1708.5L603.4 1709L603.8 1709.9L604.1 1711L604.4 1712.5L604.6 1714.2L604.7 1715.9Z"/>
<path class="rd" d="M673.6 1691.7L673.9 1716.4L676 1726.1L677.2 1750.3L679 1757.6L680.3 1783L681.8 1791.4L682.7 1819.4L684.3 1830.8L685.3 1849.6L686.8 1871L687.4 1876.6L688.2 1877.7L689.2 1876.6L690.1 1871L690.6 1825.4L689.8 1752.8L689.5 1691.7Z"/>
<path class="rd" d="M697.1 1691.7L697.7 1701.9L699.5 1706.7L700.1 1726.1L702.3 1732.2L703.1 1752.8L704.9 1758.8L705.9 1780.6L707.4 1785.4L708.6 1813.2L711 1819.4L711.2 1830.8L714.2 1873.8L716.2 1898.1L717.8 1922.3L718.4 1933.3L719.3 1935.6L720.4 1934.3L721 1930.3L721 1898.1L720.5 1849.6L720.5 1691.7Z"/>
<path class="rd" d="M736.9 1691.7L738.4 1695.9L738.9 1711.5L741.1 1717.6L742.1 1733.4L743.7 1739.4L744.7 1755.2L746.5 1761.2L747.4 1777L748.9 1783L749.5 1798.8L751.3 1804.8L752.5 1820.6L754.3 1827.8L755.3 1837.5L758.4 1873.8L762.1 1910.1L764.2 1946.5L766.6 1979.8L769 2004L769.9 2017.3L770.9 2019.8L771.9 2018.3L772.3 2013.6L772.8 1979.8L773.3 1931.3L773.3 1777L774 1691.7Z"/>
<path class="rd" d="M813.5 1691.7L817.9 1716.4L822.7 1752.8L828.7 1789L833.5 1825.4L838.8 1861.7L843.6 1898.1L849.2 1934.3L852.8 1955.6L856.4 1979.8L859.5 2004L862.4 2028.2L864.4 2052.4L866.8 2076.6L869.2 2100.9L870.9 2127.3L871.7 2130.6L873.3 2131.2L875.1 2130.3L875.9 2127.3L876.4 2112.9L877.4 2076.6L878.3 2040.3L879.8 2004L880.8 1967.6L881 1931.3L881.7 1910.1L883.6 1873.8L883.6 1837.5L885.3 1801.2L886.1 1752.8L888.5 1728.5L888.9 1691.7Z"/>
<path class="rd" d="M1021 1691.7L1023.8 1704.3L1028 1722.5L1032.8 1743.1L1037.6 1763.6L1042.4 1783L1047.3 1801.2L1050.9 1814.5L1054.8 1830.8L1063.6 1861.7L1072.7 1896.3L1081.7 1928.9L1090.8 1961.6L1096 1981.6L1100.4 1999.8L1106.4 2024L1112.4 2044.6L1118.5 2066.3L1124.5 2088.1L1130.5 2109.9L1136.7 2132.3L1142.6 2152.9L1148.6 2175.9L1154.6 2197.7L1160.5 2218.2L1166.6 2238.8L1171.4 2253.4L1173.8 2259.4L1175.6 2263.1L1177.6 2264.7L1179.4 2264.5L1181 2263.4L1183.4 2259.4L1186.4 2251L1191.3 2234L1196.7 2214.6L1202.7 2192.8L1208.1 2172.3L1213.5 2151.7L1218.8 2132.3L1223.2 2114.7L1228 2096.6L1232.8 2077.2L1237.6 2059.1L1242.5 2039.7L1247.3 2020.4L1252.7 1999.8L1256.7 1981.6L1261.4 1959.8L1269.6 1927.1L1277.7 1894.4L1285.8 1861.7L1293 1830.8L1296.7 1810.8L1301.5 1791.4L1306.3 1770.9L1311.1 1750.3L1316 1730.9L1321.4 1707.9L1324.4 1691.7Z"/>
<path class="rd" d="M600.2 1691.7L600.6 1697.1L602.1 1700.9L603.5 1697.1L604.4 1691.7Z"/>
<path class="rd" d="M608 1691.7L608.6 1694.1L609.8 1695.6L611 1694.1L612 1691.7Z"/>
<path class="rd" d="M615 1691.7L615.3 1710.3L616.3 1728.5L617 1731.5L617.6 1731.9L618.3 1730.9L618.9 1728.5L620.2 1710.3L620.6 1691.7Z"/>
<path class="rd" d="M622.8 1691.7L623.8 1710.3L625.5 1728.5L626.2 1752.8L627 1764.8L627.9 1766.3L628.8 1764.8L630.3 1740.6L631 1716.4L631.2 1691.7Z"/>
<path class="rd" d="M635.1 1691.7L636.1 1710.3L638.2 1734.6L639.7 1764.8L641.5 1789L642.3 1807.2L643 1812.6L643.6 1813.2L644.2 1812.6L644.7 1810.8L645.3 1789L645.9 1752.8L646.7 1716.4L646.9 1691.7Z"/>
<path class="rd" d="M656.1 1691.7L658.9 1728.5L662.6 1789L665 1837.5L667.9 1878.7L668.8 1886.1L669.5 1887.4L670.4 1886.1L671.2 1879.1L672.2 1801.2L672.9 1691.7Z"/>
<path class="rd" d="M694.9 1691.7L695.3 1710.3L698.1 1734.6L699.9 1764.8L702.3 1789L704.7 1813.2L707.7 1849.6L713.3 1922.3L717.6 1981.6L720 2005.8L720.9 2016.2L721.5 2017.9L722.3 2016.2L723.4 2005.8L725.3 1981.6L727 1922.3L728.9 1849.6L730.1 1777L731.3 1728.5L732.1 1691.7Z"/>
<path class="rd" d="M800 1691.7L802.4 1716.4L807.2 1752.8L813.3 1801.2L819.8 1849.6L826.5 1898.1L832.5 1946.5L837.4 1981.6L844.6 2030L851.8 2078.5L859 2126.9L866.3 2175.3L870.4 2199.6L873.5 2214L875.3 2220.3L877.1 2223L879.1 2220.8L881.9 2214L885.6 2199.6L889.6 2175.3L896.9 2126.9L903.6 2078.5L910.4 2030L916.2 1981.6L920.5 1946.4L926 1898.1L932.1 1849.6L937.4 1801.2L942.7 1752.8L947 1716.3L950.1 1691.7Z"/>
<g class="tk" text-anchor="middle">
<text transform="translate(669.1 2327.2) scale(1 1.09)">20</text>
<text transform="translate(766.6 2327.2) scale(1 1.09)">40</text>
<text transform="translate(864.1 2327.2) scale(1 1.09)">60</text>
<text transform="translate(961.6 2327.2) scale(1 1.09)">80</text>
<text transform="translate(1059 2327.2) scale(1 1.09)">100</text>
<text transform="translate(1156.5 2327.2) scale(1 1.09)">120</text>
<text transform="translate(1254 2327.2) scale(1 1.09)">140</text>
<text transform="translate(1351.5 2327.2) scale(1 1.09)">160</text>
</g>
<g class="tk" text-anchor="end">
<text transform="translate(564.4 2294.5) scale(1 1.09)">0</text>
<text transform="translate(564.4 2176.7) scale(1 1.09)">0.2</text>
<text transform="translate(564.4 2058.9) scale(1 1.09)">0.4</text>
<text transform="translate(564.4 1941.1) scale(1 1.09)">0.6</text>
<text transform="translate(564.4 1823.3) scale(1 1.09)">0.8</text>
<text transform="translate(564.4 1705.5) scale(1 1.09)">1</text>
</g>
<text class="lb"><tspan x="878.77" y="2372.9" font-size="44.19" textLength="32.33" lengthAdjust="spacingAndGlyphs">Ω</tspan> <tspan x="927.41" y="2376.88" font-size="52.1" textLength="8.84" lengthAdjust="spacingAndGlyphs">[</tspan><tspan x="936.24" y="2372.99" font-size="42.43" textLength="61.19" lengthAdjust="spacingAndGlyphs">rad</tspan><tspan x="1000.4" y="2382.94" font-size="63.63" textLength="17.05" lengthAdjust="spacingAndGlyphs">/</tspan><tspan x="1018.93" y="2373.02" font-size="40.03" textLength="17.49" lengthAdjust="spacingAndGlyphs">s</tspan><tspan x="1036.03" y="2376.88" font-size="52.1" textLength="9.99" lengthAdjust="spacingAndGlyphs">]</tspan></text>
<text class="lb" transform="translate(494.8 1985.97) rotate(-90)"><tspan x="-86.92" y="-0.46" font-size="48.26" textLength="19.87" lengthAdjust="spacingAndGlyphs" font-style="italic">ε</tspan><tspan x="-68.14" y="5.9" font-size="33.04" textLength="32.95" lengthAdjust="spacingAndGlyphs">11</tspan> <tspan x="-18.66" y="1.47" font-size="44.4" textLength="36.46" lengthAdjust="spacingAndGlyphs" class="eq">=</tspan> <tspan x="32" y="-0.46" font-size="48.26" textLength="19.55" lengthAdjust="spacingAndGlyphs" font-style="italic">ε</tspan><tspan x="53.97" y="5.9" font-size="33.04" textLength="33.01" lengthAdjust="spacingAndGlyphs">22</tspan></text>
</g>
<g id="captions">
<text class="cp"><tspan x="294.23" y="772.41" font-size="50.43" textLength="55.3" lengthAdjust="spacingAndGlyphs">(a)</tspan> <tspan x="365.38" y="771.72" font-size="47.69" textLength="89.44" lengthAdjust="spacingAndGlyphs">FSV</tspan> <tspan x="469.53" y="772.02" font-size="44.24" textLength="80.25" lengthAdjust="spacingAndGlyphs">case</tspan><tspan x="551.58" y="771.8" font-size="36.8" textLength="12.34" lengthAdjust="spacingAndGlyphs">.</tspan></text>
<text class="cp"><tspan x="1237.95" y="772.47" font-size="50.13" textLength="57.54" lengthAdjust="spacingAndGlyphs">(b)</tspan> <tspan x="1311.26" y="771.72" font-size="47.69" textLength="90.36" lengthAdjust="spacingAndGlyphs">PSV</tspan> <tspan x="1416.33" y="772.02" font-size="44.24" textLength="80.15" lengthAdjust="spacingAndGlyphs">case</tspan><tspan x="1498.28" y="771.8" font-size="36.8" textLength="12.34" lengthAdjust="spacingAndGlyphs">.</tspan></text>
<text class="cp"><tspan x="111.79" y="1613.31" font-size="50.43" textLength="54" lengthAdjust="spacingAndGlyphs">(c)</tspan> <tspan x="182" y="1612.62" font-size="47.69" textLength="92.54" lengthAdjust="spacingAndGlyphs">ASV</tspan> <tspan x="289.06" y="1612.92" font-size="44.24" textLength="83.07" lengthAdjust="spacingAndGlyphs">case</tspan> <tspan x="387.3" y="1612.9" font-size="45.58" textLength="86.96" lengthAdjust="spacingAndGlyphs">with</tspan> <tspan x="489.61" y="1612.86" font-size="40.11" textLength="18.03" lengthAdjust="spacingAndGlyphs" font-style="italic">ε</tspan><tspan x="510.79" y="1619.7" font-size="26.96" textLength="36.51" lengthAdjust="spacingAndGlyphs">22</tspan> <tspan x="559.36" y="1615" font-size="36.8" textLength="37.42" lengthAdjust="spacingAndGlyphs" class="eq">=</tspan> <tspan x="608.19" y="1612.79" font-size="47.19" textLength="56.12" lengthAdjust="spacingAndGlyphs">0.5</tspan> <tspan x="674.51" y="1612.86" font-size="40.11" textLength="18.03" lengthAdjust="spacingAndGlyphs" font-style="italic">ε</tspan><tspan x="695.5" y="1619.7" font-size="27.28" textLength="34.74" lengthAdjust="spacingAndGlyphs">11</tspan><tspan x="733.83" y="1612.7" font-size="36.8" textLength="12.55" lengthAdjust="spacingAndGlyphs">.</tspan></text>
<text class="cp"><tspan x="1071.67" y="1613.37" font-size="50.13" textLength="59.93" lengthAdjust="spacingAndGlyphs">(d)</tspan> <tspan x="1148" y="1612.62" font-size="47.69" textLength="92.44" lengthAdjust="spacingAndGlyphs">ASV</tspan> <tspan x="1254.98" y="1612.92" font-size="44.24" textLength="82.34" lengthAdjust="spacingAndGlyphs">case</tspan> <tspan x="1352.2" y="1612.9" font-size="45.58" textLength="87.17" lengthAdjust="spacingAndGlyphs">with</tspan> <tspan x="1454.51" y="1612.86" font-size="40.11" textLength="18.03" lengthAdjust="spacingAndGlyphs" font-style="italic">ε</tspan><tspan x="1475.69" y="1619.7" font-size="26.96" textLength="36.51" lengthAdjust="spacingAndGlyphs">22</tspan> <tspan x="1525.36" y="1615" font-size="36.8" textLength="36.21" lengthAdjust="spacingAndGlyphs" class="eq">=</tspan> <tspan x="1573.76" y="1613.3" font-size="47.96" textLength="23.5" lengthAdjust="spacingAndGlyphs">2</tspan> <tspan x="1604.63" y="1612.86" font-size="40.11" textLength="17.61" lengthAdjust="spacingAndGlyphs" font-style="italic">ε</tspan><tspan x="1624.38" y="1619.7" font-size="27.28" textLength="34.98" lengthAdjust="spacingAndGlyphs">11</tspan><tspan x="1663.25" y="1612.7" font-size="36.8" textLength="11.71" lengthAdjust="spacingAndGlyphs">.</tspan></text>
<text class="cp"><tspan x="622.46" y="2453.51" font-size="50.43" textLength="52.04" lengthAdjust="spacingAndGlyphs">(e)</tspan> <tspan x="689.12" y="2452.82" font-size="47.69" textLength="86.68" lengthAdjust="spacingAndGlyphs">SSV</tspan> <tspan x="789.76" y="2453.12" font-size="44.24" textLength="83.18" lengthAdjust="spacingAndGlyphs">case</tspan> <tspan x="888.3" y="2453.1" font-size="45.58" textLength="86.26" lengthAdjust="spacingAndGlyphs">with</tspan> <tspan x="990.65" y="2453.06" font-size="40.11" textLength="17.29" lengthAdjust="spacingAndGlyphs" font-style="italic">ε</tspan><tspan x="1010.58" y="2459.9" font-size="27.28" textLength="36.04" lengthAdjust="spacingAndGlyphs">11</tspan> <tspan x="1060.68" y="2455.2" font-size="36.8" textLength="37.18" lengthAdjust="spacingAndGlyphs" class="eq">=</tspan> <tspan x="1109.54" y="2453.06" font-size="40.11" textLength="17.39" lengthAdjust="spacingAndGlyphs" font-style="italic">ε</tspan><tspan x="1130.55" y="2459.9" font-size="26.96" textLength="35.17" lengthAdjust="spacingAndGlyphs">22</tspan><tspan x="1167.51" y="2452.9" font-size="36.8" textLength="13.38" lengthAdjust="spacingAndGlyphs">.</tspan></text>
</g>
</svg></body></html>
